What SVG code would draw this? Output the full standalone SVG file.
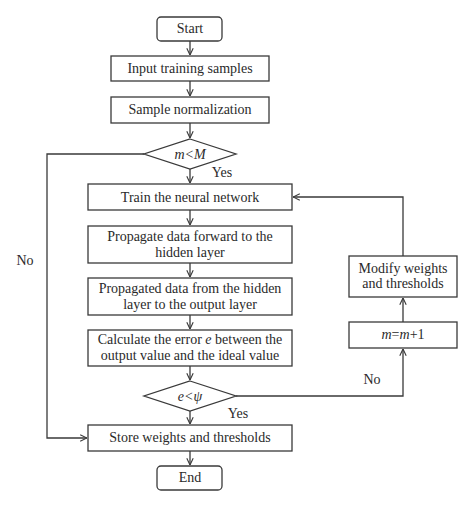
<svg xmlns="http://www.w3.org/2000/svg" width="474" height="507" viewBox="0 0 474 507" font-family="'Liberation Serif', 'DejaVu Serif', serif">
<style>
.b{fill:#fff;stroke:#3a3a3a;stroke-width:1.3}
.c{fill:none;stroke:#3a3a3a;stroke-width:1.3}
text{font-family:'Liberation Serif','DejaVu Serif',serif;font-size:14px;fill:#2a2a2a;text-anchor:middle}
.i{font-style:italic}
</style>
<defs>
<marker id="a" viewBox="0 0 10 10" refX="9.5" refY="5" markerWidth="8" markerHeight="8" markerUnits="userSpaceOnUse" orient="auto">
<path d="M1,1 L9.5,5 L1,9" fill="none" stroke="#3a3a3a" stroke-width="1.4"/>
</marker>
</defs>
<rect width="474" height="507" fill="#fff"/>
<g id="connectors">
<line class="c" x1="190" y1="41" x2="190" y2="55" marker-end="url(#a)"/>
<line class="c" x1="190" y1="81" x2="190" y2="96" marker-end="url(#a)"/>
<line class="c" x1="190" y1="123" x2="190" y2="138" marker-end="url(#a)"/>
<line class="c" x1="190" y1="169" x2="190" y2="183" marker-end="url(#a)"/>
<line class="c" x1="190" y1="210" x2="190" y2="225" marker-end="url(#a)"/>
<line class="c" x1="190" y1="263" x2="190" y2="277" marker-end="url(#a)"/>
<line class="c" x1="190" y1="315" x2="190" y2="329" marker-end="url(#a)"/>
<line class="c" x1="190" y1="366" x2="190" y2="380" marker-end="url(#a)"/>
<line class="c" x1="190" y1="411" x2="190" y2="424" marker-end="url(#a)"/>
<line class="c" x1="190" y1="451" x2="190" y2="465" marker-end="url(#a)"/>
<polyline class="c" points="144,154 47,154 47,438 87,438" marker-end="url(#a)"/>
<polyline class="c" points="236,396 403,396 403,349" marker-end="url(#a)"/>
<line class="c" x1="403" y1="322" x2="403" y2="298" marker-end="url(#a)"/>
<polyline class="c" points="403,256 403,197 293,197" marker-end="url(#a)"/>
<text x="222" y="177">Yes</text>
<text x="238" y="418">Yes</text>
<text x="25" y="265">No</text>
<text x="372" y="384">No</text>
</g>
<g id="start"><rect class="b" x="157" y="17" width="65" height="24" rx="4"/><text x="190" y="33">Start</text></g>
<g id="input"><rect class="b" x="111" y="56" width="158" height="25"/><text x="190" y="73">Input training samples</text></g>
<g id="norm"><rect class="b" x="111" y="97" width="158" height="26"/><text x="190" y="114">Sample normalization</text></g>
<g id="d1"><polygon class="b" points="190,139 236,154 190,169 144,154"/><text x="190" y="158.5" class="i">m&lt;M</text></g>
<g id="train"><rect class="b" x="88" y="184" width="204" height="26"/><text x="190" y="201.5">Train the neural network</text></g>
<g id="fwd"><rect class="b" x="88" y="226" width="204" height="37"/><text x="190" y="240.5">Propagate data forward to the</text><text x="190" y="256.5">hidden layer</text></g>
<g id="out"><rect class="b" x="88" y="278" width="204" height="37"/><text x="190" y="292.5">Propagated data from the hidden</text><text x="190" y="308.5">layer to the output layer</text></g>
<g id="err"><rect class="b" x="88" y="330" width="204" height="36"/><text x="190" y="344">Calculate the error <tspan class="i">e</tspan> between the</text><text x="190" y="360">output value and the ideal value</text></g>
<g id="d2"><polygon class="b" points="190,381 236,396 190,411 144,396"/><text x="190" y="400.5" class="i">e&lt;ψ</text></g>
<g id="store"><rect class="b" x="88" y="425" width="204" height="26"/><text x="190" y="442">Store weights and thresholds</text></g>
<g id="end"><rect class="b" x="157" y="466" width="65" height="24" rx="4"/><text x="190" y="482">End</text></g>
<g id="modify"><rect class="b" x="349" y="256" width="108" height="41"/><text x="403" y="272.5">Modify weights</text><text x="403" y="288">and thresholds</text></g>
<g id="inc"><rect class="b" x="349" y="322" width="108" height="26"/><text x="403" y="339" class="i">m<tspan font-style="normal">=</tspan>m<tspan font-style="normal">+1</tspan></text></g>
</svg>
